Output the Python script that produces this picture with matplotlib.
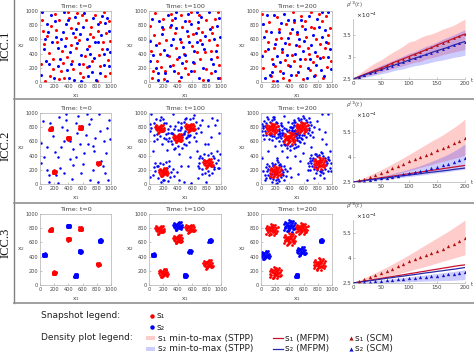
import numpy as np
import matplotlib
matplotlib.use("Agg")
import matplotlib.pyplot as plt
from matplotlib.lines import Line2D
from matplotlib.patches import Rectangle

W, H = 474, 354

# ---------------- snapshot data (x1, x2 in 0..1000) ----------------
# ICC.1 : uniform mixtures
ICC1_S1_T0 = [(35,880),(120,410),(210,960),(290,150),(370,620),(455,300),(530,830),(610,70),(690,510),(770,940),
              (850,230),(930,690),(60,540),(140,90),(230,730),(310,440),(395,980),(470,180),(555,590),(640,360),
              (715,780),(800,20),(880,470),(965,860),(20,250),(105,650),(185,330),(265,870),(345,50),(430,760),
              (505,480),(585,940),(665,210),(745,640),(825,380),(905,990),(980,130),(75,20),(160,790),(245,560),
              (325,270),(410,900),(490,640),(570,120),(650,880),(730,290),(810,720),(890,560),(960,310),(45,720),
              (180,190),(270,40),(380,350),(520,970),(600,250),(700,680),(840,850),(920,90),(990,580),(440,520)]
ICC1_S2_T0 = [(80,300),(160,940),(250,480),(330,700),(415,60),(495,910),(575,380),(655,600),(735,140),(815,820),
              (895,400),(975,720),(15,100),(95,820),(175,560),(255,230),(335,990),(420,420),(500,740),(580,20),
              (660,470),(740,900),(820,560),(900,240),(985,420),(50,460),(130,250),(215,860),(300,600),(385,170),
              (465,690),(545,260),(625,970),(705,400),(785,30),(865,660),(945,900),(30,980),(110,700),(195,60),
              (280,330),(360,810),(440,250),(520,550),(600,780),(680,80),(760,340),(840,130),(920,830),(965,220),
              (70,610),(230,640),(350,500),(480,30),(560,680),(690,230),(780,560),(870,930),(950,470),(400,880)]
ICC1_S1_T100 = [(25,430),(90,970),(170,210),(240,590),(320,880),(400,130),(480,400),(560,860),(630,270),(710,590),
                (790,180),(870,780),(950,520),(55,150),(135,550),(215,40),(290,770),(375,480),(450,940),(535,110),
                (615,670),(695,950),(775,420),(855,120),(940,350),(10,790),(115,300),(200,890),(275,370),(360,690),
                (440,560),(515,300),(595,510),(675,760),(755,30),(835,590),(915,890),(990,60),(65,660),(150,400),
                (225,160),(305,960),(385,330),(465,780),(545,650),(620,150),(705,330),(790,870),(880,690),(960,980),
                (40,50),(195,740),(330,240),(420,20),(590,990),(660,420),(740,700),(860,430),(970,240),(500,200)]
ICC1_S2_T100 = [(60,380),(140,860),(220,120),(300,520),(380,760),(460,270),(540,960),(620,430),(700,60),(780,650),
                (860,320),(940,790),(20,580),(100,200),(185,680),(265,940),(345,160),(425,610),(505,380),(590,820),
                (670,570),(750,200),(830,990),(910,150),(985,640),(45,890),(125,30),(205,450),(285,230),(365,900),
                (445,70),(525,720),(605,280),(685,850),(765,470),(845,740),(925,440),(15,300),(95,520),(175,780),
                (255,10),(340,600),(420,350),(500,860),(580,160),(660,990),(740,530),(820,30),(900,610),(975,900),
                (130,120),(250,380),(370,980),(470,490),(560,560),(650,690),(720,920),(890,260),(960,60),(310,800)]
ICC1_S1_T200 = [(70,720),(150,330),(230,910),(310,60),(390,540),(470,850),(550,220),(630,630),(710,990),(790,360),
                (870,60),(950,660),(30,200),(110,850),(190,480),(270,160),(350,820),(430,380),(510,670),(590,40),
                (670,390),(750,760),(830,530),(910,930),(990,300),(55,430),(135,90),(215,610),(295,420),(375,240),
                (455,980),(535,500),(615,860),(695,170),(775,600),(855,860),(935,210),(15,960),(95,560),(175,10),
                (255,750),(335,310),(415,690),(495,100),(575,790),(655,480),(735,280),(815,960),(895,480),(975,760),
                (200,230),(280,620),(400,30),(460,300),(620,320),(700,780),(760,100),(880,350),(940,550),(560,930)]
ICC1_S2_T200 = [(40,630),(120,100),(200,530),(280,830),(360,380),(440,740),(520,140),(600,580),(680,930),(760,420),
                (840,170),(920,560),(10,360),(90,940),(170,250),(250,700),(330,960),(410,230),(490,520),(570,880),
                (650,50),(730,660),(810,780),(890,90),(970,470),(60,60),(145,700),(225,360),(305,130),(385,620),
                (465,880),(545,330),(625,750),(705,520),(785,890),(865,640),(945,990),(25,810),(105,460),(185,950),
                (265,280),(345,550),(425,100),(505,710),(585,430),(665,200),(745,80),(825,340),(905,730),(985,180),
                (160,140),(300,470),(380,880),(480,400),(540,610),(690,320),(770,240),(860,980),(950,350),(220,20)]

# cluster centres
S1_CENTRES = [(150,780),(570,795),(400,645),(820,292),(200,172)]
S2_CENTRES_ICC3 = [(400,832),(847,625),(60,424),(565,474),(502,133)]

# cluster shapes (offsets from centre) at the three times
OFF_T0 = [(0,0),(15,6),(-12,10),(6,-15),(-10,-12),(22,-4),(-20,-3),(4,20),(-5,-22),(14,17),(-16,15),(18,-17),
          (-22,-14),(26,10),(-2,8),(9,-5),(-8,2)]
OFF_T100 = [(0,0),(20,10),(-25,15),(10,-30),(-15,-20),(40,-5),(-40,5),(5,40),(-10,-45),(30,35),(-35,30),(35,-35),
            (-45,-25),(55,15),(-55,-10),(15,55),(-20,-55),(50,-40),(-50,45),(0,-20),(25,-15),(-12,28),(62,-20),
            (-30,-60),(40,55),(-65,20)]
OFF_T200 = [(0,0),(25,12),(-30,18),(12,-35),(-20,-25),(50,-8),(-50,6),(6,50),(-12,-55),(38,42),(-42,38),(44,-44),
            (-55,-30),(68,18),(-68,-12),(18,68),(-25,-68),(62,-50),(-62,55),(0,-25),(30,-18),(-15,35),(78,-25),
            (-38,-75),(50,68),(-80,25),(85,40),(-75,-55),(30,-80),(-10,85),(10,20),(-22,-8)]
OFF_RING = [(110,0),(80,80),(0,115),(-85,75),(-120,5),(-80,-85),(5,-110),(85,-80),(140,40),(40,140),(-50,130),
            (-140,-40),(-40,-140),(60,-135),(150,-60),(-130,70)]
OFF_RING2 = [(95,30),(60,100),(-30,100),(-100,40),(-95,-40),(-30,-95),(40,-100),(100,-30),(125,85),(-110,110),
             (-125,-90),(120,-110),(20,160),(-165,10),(170,5),(10,-165)]

# ICC.3 blue clusters: which shape each centre has per time
ICC3_S2_SHAPE_T100 = ["T100", "T0", "T0", "T0", "T0"]
ICC3_S2_SHAPE_T200 = ["T200", "T0", "T100", "T100", "T0"]

# ---------------- density data ----------------
T = [0,10,20,30,40,50,60,70,80,90,100,110,120,130,140,150,160,170,180,190,200]

R1_S1_MFPM = [2.50,2.55,2.60,2.65,2.70,2.75,2.80,2.86,2.91,2.96,3.01,3.06,3.11,3.16,3.21,3.27,3.32,3.37,3.42,3.47,3.52]
R1_S2_MFPM = [2.50,2.54,2.59,2.63,2.67,2.71,2.76,2.80,2.84,2.88,2.93,2.97,3.01,3.05,3.10,3.14,3.18,3.22,3.27,3.31,3.35]
R1_S1_SCM = [2.50,2.55,2.60,2.65,2.70,2.76,2.81,2.86,2.91,2.96,3.01,3.07,3.12,3.17,3.22,3.27,3.32,3.37,3.42,3.47,3.52]
R1_S2_SCM = [2.50,2.54,2.59,2.63,2.67,2.72,2.76,2.80,2.85,2.89,2.93,2.97,3.02,3.06,3.10,3.14,3.18,3.23,3.27,3.31,3.35]
R1_S1_MAX = [2.50,2.61,2.70,2.79,2.87,2.93,3.02,3.10,3.17,3.25,3.34,3.37,3.44,3.49,3.52,3.57,3.63,3.67,3.72,3.79,3.86]
R1_S1_MIN = [2.50,2.52,2.55,2.59,2.62,2.66,2.70,2.73,2.77,2.80,2.84,2.88,2.90,2.95,2.98,3.01,3.05,3.08,3.11,3.14,3.17]
R1_S2_MAX = [2.50,2.57,2.64,2.69,2.75,2.81,2.86,2.91,2.97,3.02,3.08,3.12,3.18,3.24,3.28,3.34,3.40,3.45,3.50,3.56,3.62]
R1_S2_MIN = [2.50,2.51,2.53,2.56,2.59,2.62,2.64,2.68,2.71,2.73,2.77,2.80,2.82,2.85,2.88,2.91,2.93,2.96,2.99,3.01,3.04]

R2_S1_MFPM = [2.50,2.55,2.60,2.65,2.70,2.75,2.80,2.85,2.90,2.95,3.00,3.05,3.10,3.15,3.20,3.25,3.30,3.35,3.40,3.45,3.50]
R2_S2_MFPM = [2.50,2.54,2.58,2.63,2.67,2.71,2.75,2.79,2.84,2.88,2.92,2.96,3.00,3.05,3.09,3.13,3.17,3.21,3.26,3.30,3.34]
R2_S1_SCM = [2.50,2.60,2.70,2.81,2.93,3.05,3.18,3.32,3.46,3.60,3.74,3.87,4.00,4.13,4.27,4.41,4.55,4.69,4.84,4.99,5.14]
R2_S2_SCM = [2.50,2.54,2.58,2.62,2.67,2.72,2.77,2.83,2.89,2.96,3.03,3.10,3.17,3.25,3.34,3.43,3.52,3.61,3.71,3.82,3.94]
R2_S1_MAX = [2.50,2.63,2.77,2.92,3.08,3.24,3.41,3.59,3.77,3.96,4.16,4.36,4.56,4.76,4.96,5.14,5.34,5.56,5.78,6.02,6.30]
R2_S1_MIN = [2.50,2.55,2.60,2.66,2.72,2.79,2.86,2.93,3.01,3.10,3.19,3.28,3.37,3.46,3.55,3.65,3.74,3.83,3.92,4.01,4.12]
R2_S2_MAX = [2.50,2.56,2.62,2.69,2.76,2.84,2.92,3.00,3.09,3.18,3.28,3.38,3.49,3.61,3.74,3.88,4.02,4.18,4.36,4.56,4.80]
R2_S2_MIN = [2.50,2.52,2.55,2.58,2.61,2.64,2.68,2.71,2.75,2.79,2.83,2.87,2.91,2.95,3.00,3.04,3.08,3.13,3.18,3.23,3.28]

R3_S1_MFPM = [2.50,2.55,2.61,2.66,2.72,2.77,2.83,2.88,2.94,2.99,3.05,3.10,3.16,3.21,3.27,3.32,3.38,3.43,3.49,3.54,3.58]
R3_S2_MFPM = [2.50,2.55,2.59,2.64,2.68,2.73,2.78,2.82,2.87,2.91,2.96,3.00,3.05,3.10,3.14,3.19,3.23,3.28,3.32,3.37,3.42]
R3_S1_SCM = [2.50,2.61,2.72,2.84,2.96,3.09,3.22,3.36,3.50,3.64,3.78,3.90,4.02,4.14,4.26,4.38,4.53,4.68,4.84,5.00,5.16]
R3_S2_SCM = [2.50,2.52,2.54,2.57,2.59,2.62,2.65,2.68,2.71,2.74,2.77,2.80,2.83,2.86,2.90,2.94,2.98,3.02,3.06,3.10,3.15]
R3_S1_MAX = [2.50,2.64,2.80,2.96,3.12,3.28,3.44,3.62,3.80,3.99,4.18,4.38,4.58,4.78,4.98,5.18,5.38,5.58,5.80,6.02,6.25]
R3_S1_MIN = [2.50,2.56,2.62,2.68,2.75,2.82,2.89,2.97,3.05,3.13,3.22,3.31,3.40,3.49,3.59,3.69,3.79,3.89,3.98,4.08,4.18]
R3_S2_MAX = [2.50,2.53,2.57,2.60,2.64,2.68,2.71,2.75,2.79,2.83,2.87,2.91,2.95,2.99,3.03,3.07,3.11,3.15,3.19,3.24,3.30]
R3_S2_MIN = [2.50,2.50,2.51,2.51,2.52,2.53,2.54,2.55,2.56,2.57,2.58,2.59,2.60,2.61,2.62,2.63,2.64,2.65,2.66,2.68,2.70]

ROW_YTICKS = [[2.5, 3, 3.5], [2.5, 4, 5.5], [2.5, 4, 5.5]]
ROW_YTICKLABELS = [["2.5", "3", "3.5"], ["2.5", "4", "5.5"], ["2.5", "4", "5.5"]]
ROW_YLIM = [(2.5, 3.86), (2.5, 6.3), (2.5, 6.25)]
XTICKS = [0, 50, 100, 150, 200]
SNAP_TICKS = [0, 200, 400, 600, 800, 1000]
TIMES = ["Time: t=0", "Time: t=100", "Time: t=200"]
ROW_LABELS = ["ICC.1", "ICC.2", "ICC.3"]

RED = "#ff0000"
BLUE = "#0000ff"
LINE_RED = "#c8102e"
LINE_BLUE = "#2a2aa8"
TRI_RED = "#b01010"
TRI_BLUE = "#1414c8"
GREY_TXT = "#444444"

OFFS = {"T0": OFF_T0, "T100": OFF_T100, "T200": OFF_T200}


def place(centres, offsets):
    pts = [(cx + dx, cy + dy) for (cx, cy) in centres for (dx, dy) in offsets]
    return np.array(pts)


fig = plt.figure(figsize=(W / 100, H / 100), dpi=100)


def px_axes(x0, y0, x1, y1):
    return fig.add_axes([x0 / W, 1 - y1 / H, (x1 - x0) / W, (y1 - y0) / H])


def fig_line(xs, ys, **kw):
    fig.add_artist(Line2D([x / W for x in xs], [1 - y / H for y in ys],
                          transform=fig.transFigure, **kw))


def style_snapshot(ax, title):
    ax.set_xlim(0, 1000)
    ax.set_ylim(0, 1000)
    ax.set_xticks(SNAP_TICKS)
    ax.set_yticks(SNAP_TICKS)
    ax.tick_params(direction="in", length=1.5, width=0.4, labelsize=3.6,
                   colors="#999999", labelcolor=GREY_TXT, pad=1.5)
    for s in ax.spines.values():
        s.set_color("#b0b0b0")
        s.set_linewidth(0.5)
    ax.set_title(title, fontsize=4.6, color=GREY_TXT, pad=2)
    ax.set_xlabel("x$_1$", fontsize=4.2, color=GREY_TXT, labelpad=2.5)
    ax.set_ylabel("x$_2$", fontsize=4.2, color=GREY_TXT, rotation=0, labelpad=3, va="center")


def dots(ax, pts, color, ms=1.8):
    pts = np.asarray(pts)
    ax.plot(pts[:, 0], pts[:, 1], "o", ms=ms, mew=0, color=color)


snap_cols = [(40, 111), (149, 221), (261, 332)]
snap_rows = [(11, 82), (113, 184), (214, 285)]
dens_x = (353, 465)
dens_rows = [(19, 79), (119, 182), (220, 283)]

# ---------------- ICC.1 snapshots ----------------
icc1 = [(ICC1_S1_T0, ICC1_S2_T0), (ICC1_S1_T100, ICC1_S2_T100), (ICC1_S1_T200, ICC1_S2_T200)]
for c, (s1, s2) in enumerate(icc1):
    ax = px_axes(snap_cols[c][0], snap_rows[0][0], snap_cols[c][1], snap_rows[0][1])
    dots(ax, s1, RED, ms=2.2)
    dots(ax, s2, BLUE, ms=2.2)
    style_snapshot(ax, TIMES[c])

# ---------------- ICC.2 snapshots ----------------
icc2_s2 = [np.array(ICC1_S2_T100),
           np.vstack([ICC1_S2_T0, place(S1_CENTRES, OFF_RING)]),
           np.vstack([ICC1_S2_T200, place(S1_CENTRES, OFF_RING), place(S1_CENTRES, OFF_RING2)])]
icc2_s1 = [place(S1_CENTRES, OFF_T0), place(S1_CENTRES, OFF_T100), place(S1_CENTRES, OFF_T200)]
for c in range(3):
    ax = px_axes(snap_cols[c][0], snap_rows[1][0], snap_cols[c][1], snap_rows[1][1])
    dots(ax, icc2_s2[c], BLUE, ms=1.8)
    dots(ax, icc2_s1[c], RED, ms=2.0)
    style_snapshot(ax, TIMES[c])

# ---------------- ICC.3 snapshots ----------------
icc3_s2 = [place(S2_CENTRES_ICC3, OFF_T0),
           np.vstack([place([cen], OFFS[k]) for cen, k in zip(S2_CENTRES_ICC3, ICC3_S2_SHAPE_T100)]),
           np.vstack([place([cen], OFFS[k]) for cen, k in zip(S2_CENTRES_ICC3, ICC3_S2_SHAPE_T200)])]
for c in range(3):
    ax = px_axes(snap_cols[c][0], snap_rows[2][0], snap_cols[c][1], snap_rows[2][1])
    dots(ax, icc3_s2[c], BLUE, ms=2.0)
    dots(ax, icc2_s1[c], RED, ms=2.0)
    style_snapshot(ax, TIMES[c])

# ---------------- density plots ----------------
dens = [
    (R1_S1_MIN, R1_S1_MAX, R1_S2_MIN, R1_S2_MAX, R1_S1_MFPM, R1_S2_MFPM, R1_S1_SCM, R1_S2_SCM),
    (R2_S1_MIN, R2_S1_MAX, R2_S2_MIN, R2_S2_MAX, R2_S1_MFPM, R2_S2_MFPM, R2_S1_SCM, R2_S2_SCM),
    (R3_S1_MIN, R3_S1_MAX, R3_S2_MIN, R3_S2_MAX, R3_S1_MFPM, R3_S2_MFPM, R3_S1_SCM, R3_S2_SCM),
]
for r, (a_lo, a_hi, b_lo, b_hi, a_m, b_m, a_s, b_s) in enumerate(dens):
    ax = px_axes(dens_x[0], dens_rows[r][0], dens_x[1], dens_rows[r][1])
    ax.fill_between(T, a_lo, a_hi, color=RED, alpha=0.2, lw=0)
    ax.fill_between(T, b_lo, b_hi, color=BLUE, alpha=0.2, lw=0)
    ax.plot(T, a_m, color=LINE_RED, lw=0.9)
    ax.plot(T, b_m, color=LINE_BLUE, lw=0.9)
    ms = 2.0 if r == 0 else 2.4
    ax.plot(T, a_s, "^", ms=ms, mew=0, color=TRI_RED)
    ax.plot(T, b_s, "^", ms=ms, mew=0, color=TRI_BLUE)
    ax.set_xlim(0, 200)
    ax.set_ylim(*ROW_YLIM[r])
    ax.set_xticks(XTICKS)
    ax.set_yticks(ROW_YTICKS[r])
    ax.set_yticklabels(ROW_YTICKLABELS[r])
    ax.tick_params(direction="in", length=1.5, width=0.4, labelsize=4.0,
                   colors="#999999", labelcolor=GREY_TXT, pad=1.5)
    for side in ["top", "right"]:
        ax.spines[side].set_visible(False)
    for side in ["left", "bottom"]:
        ax.spines[side].set_color("#b0b0b0")
        ax.spines[side].set_linewidth(0.5)
    top = dens_rows[r][0]
    fig.text(346 / W, 1 - (top - 14) / H, r"$\rho^{(1)}(t)$", fontsize=3.8, color=GREY_TXT, va="center")
    fig.text(356 / W, 1 - (top - 4) / H, r"$\times\,10^{-4}$", fontsize=4.2, color="#222222", va="center")
    fig.text(471 / W, 1 - (dens_rows[r][1] + 1) / H, "t", fontsize=3.8, color=GREY_TXT, va="center")

# ---------------- frame lines and row labels ----------------
fig_line([13.5, 13.5], [0, 303], color="#808080", lw=1.0)
for y in [98.5, 202.5, 303]:
    fig_line([13.5, 474], [y, y], color="#909090", lw=1.2)
for lab, yc in zip(ROW_LABELS, [46, 146, 243]):
    fig.text(6 / W, 1 - yc / H, lab, rotation=90, ha="center", va="center",
             fontsize=9, family="Liberation Serif", color="#111111")

# ---------------- legend ----------------
lfs = 6.5
fig.text(41 / W, 1 - 316 / H, "Snapshot legend:", fontsize=lfs, va="center", color="#222222")
fig.text(41 / W, 1 - 338 / H, "Density plot legend:", fontsize=lfs, va="center", color="#222222")
for y, col, lab in [(316, RED, "s\u2081"), (327, BLUE, "s\u2082")]:
    fig_line([152], [y], marker="o", ms=3.2, mew=0, color=col, ls="none")
    fig.text(157 / W, 1 - y / H, lab, fontsize=lfs, va="center", color="#222222")
for y, band, line, tri, lab in [(338, RED, LINE_RED, TRI_RED, "s\u2081"), (349, BLUE, LINE_BLUE, TRI_BLUE, "s\u2082")]:
    fig.add_artist(Rectangle((146 / W, 1 - (y + 2) / H), 9 / W, 4 / H, transform=fig.transFigure,
                             color=band, alpha=0.2, lw=0))
    fig.text(158 / W, 1 - y / H, lab + " min-to-max (STPP)", fontsize=lfs, va="center", color="#222222")
    fig_line([273, 283], [y, y], color=line, lw=0.9)
    fig.text(285 / W, 1 - y / H, lab + " (MFPM)", fontsize=lfs, va="center", color="#222222")
    fig_line([351], [y], marker="^", ms=3.0, mew=0, color=tri, ls="none")
    fig.text(355 / W, 1 - y / H, lab + " (SCM)", fontsize=lfs, va="center", color="#222222")

fig.savefig("out.png", dpi=100)
